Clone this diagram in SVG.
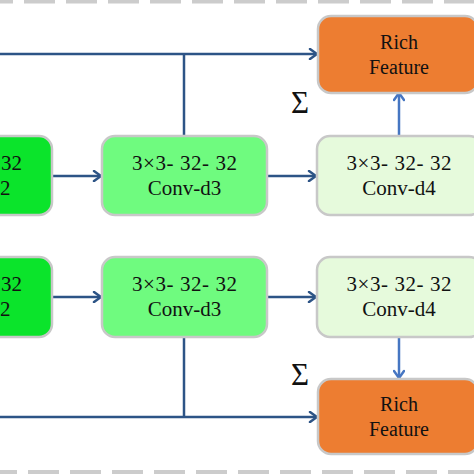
<svg xmlns="http://www.w3.org/2000/svg" width="474" height="474" viewBox="0 0 474 474">
<defs>
<style>
.box{stroke:#c8c8c8;stroke-width:2.5}
.rich{fill:#ED7D31}
.c2{fill:#0BE42B}
.c3{fill:#6FFB7F}
.c4{fill:#E6FADC}
.t{font-family:"Liberation Serif","Times New Roman",serif;font-size:20px;fill:#111;text-anchor:middle}
.t2{font-family:"Liberation Serif","Times New Roman",serif;font-size:21px;fill:#111;text-anchor:middle}
.sig{font-family:"Liberation Serif","Times New Roman",serif;font-size:31px;fill:#111;text-anchor:middle}
.ln{fill:none;stroke:#2D5486;stroke-width:2.5}
.lb{fill:none;stroke:#4676C2;stroke-width:2.5}
.dash{stroke:#cccccc;stroke-width:4;stroke-dasharray:31 11}
</style>
<marker id="ah" viewBox="0 0 10 12" refX="9" refY="6" markerWidth="10" markerHeight="12" markerUnits="userSpaceOnUse" orient="auto">
<path d="M2,1 L9,6 L2,11" fill="none" stroke="#2D5486" stroke-width="2.5" stroke-linecap="round"/>
</marker>
<marker id="ahb" viewBox="0 0 10 12" refX="9" refY="6" markerWidth="10" markerHeight="12" markerUnits="userSpaceOnUse" orient="auto">
<path d="M2,1 L9,6 L2,11" fill="none" stroke="#4676C2" stroke-width="2.5" stroke-linecap="round"/>
</marker>
</defs>
<rect width="474" height="474" fill="#ffffff"/>
<line class="dash" x1="0" y1="1.5" x2="474" y2="1.5" stroke-dashoffset="18"/>
<line class="dash" x1="0" y1="472" x2="474" y2="472" stroke-dashoffset="14"/>

<g id="connectors">
<line class="ln" x1="0" y1="54" x2="317" y2="54" marker-end="url(#ah)"/>
<line class="ln" x1="184" y1="54" x2="184" y2="135"/>
<line class="ln" x1="51" y1="176" x2="101" y2="176" marker-end="url(#ah)"/>
<line class="ln" x1="267" y1="176" x2="316" y2="176" marker-end="url(#ah)"/>
<line class="lb" x1="399" y1="136" x2="399" y2="93" marker-end="url(#ahb)"/>
<line class="ln" x1="51" y1="297" x2="101" y2="297" marker-end="url(#ah)"/>
<line class="ln" x1="267" y1="297" x2="316" y2="297" marker-end="url(#ah)"/>
<line class="ln" x1="184" y1="338" x2="184" y2="417"/>
<line class="ln" x1="0" y1="417" x2="317" y2="417" marker-end="url(#ah)"/>
<line class="lb" x1="399" y1="338" x2="399" y2="378" marker-end="url(#ahb)"/>
</g>

<g id="sigma-top"><text class="sig" x="300" y="113">Σ</text></g>
<g id="sigma-bottom"><text class="sig" x="300" y="385">Σ</text></g>

<g id="rich-top">
<rect class="box rich" x="318" y="16" width="160" height="77" rx="13"/>
<text class="t" x="399" y="49">Rich</text>
<text class="t" x="399" y="74">Feature</text>
</g>

<g id="conv-d2-top">
<rect class="box c2" x="-120" y="136" width="172" height="79" rx="13"/>
<text class="t2" x="22" y="170" style="text-anchor:end">32</text>
<text class="t2" x="0" y="195" style="text-anchor:start">2</text>
</g>
<g id="conv-d3-top">
<rect class="box c3" x="102" y="136" width="165" height="79" rx="13"/>
<text class="t2" x="184.5" y="170" textLength="105" lengthAdjust="spacing">3×3- 32- 32</text>
<text class="t2" x="184.5" y="195">Conv-d3</text>
</g>
<g id="conv-d4-top">
<rect class="box c4" x="317" y="136" width="165" height="79" rx="13"/>
<text class="t2" x="399" y="170" textLength="105" lengthAdjust="spacing">3×3- 32- 32</text>
<text class="t2" x="399" y="195">Conv-d4</text>
</g>

<g id="conv-d2-bottom">
<rect class="box c2" x="-120" y="257" width="172" height="80" rx="13"/>
<text class="t2" x="22" y="291" style="text-anchor:end">32</text>
<text class="t2" x="0" y="316" style="text-anchor:start">2</text>
</g>
<g id="conv-d3-bottom">
<rect class="box c3" x="102" y="257" width="165" height="80" rx="13"/>
<text class="t2" x="184.5" y="291" textLength="105" lengthAdjust="spacing">3×3- 32- 32</text>
<text class="t2" x="184.5" y="316">Conv-d3</text>
</g>
<g id="conv-d4-bottom">
<rect class="box c4" x="317" y="257" width="165" height="80" rx="13"/>
<text class="t2" x="399" y="291" textLength="105" lengthAdjust="spacing">3×3- 32- 32</text>
<text class="t2" x="399" y="316">Conv-d4</text>
</g>

<g id="rich-bottom">
<rect class="box rich" x="318" y="379" width="160" height="75" rx="13"/>
<text class="t" x="399" y="411">Rich</text>
<text class="t" x="399" y="436">Feature</text>
</g>
</svg>
